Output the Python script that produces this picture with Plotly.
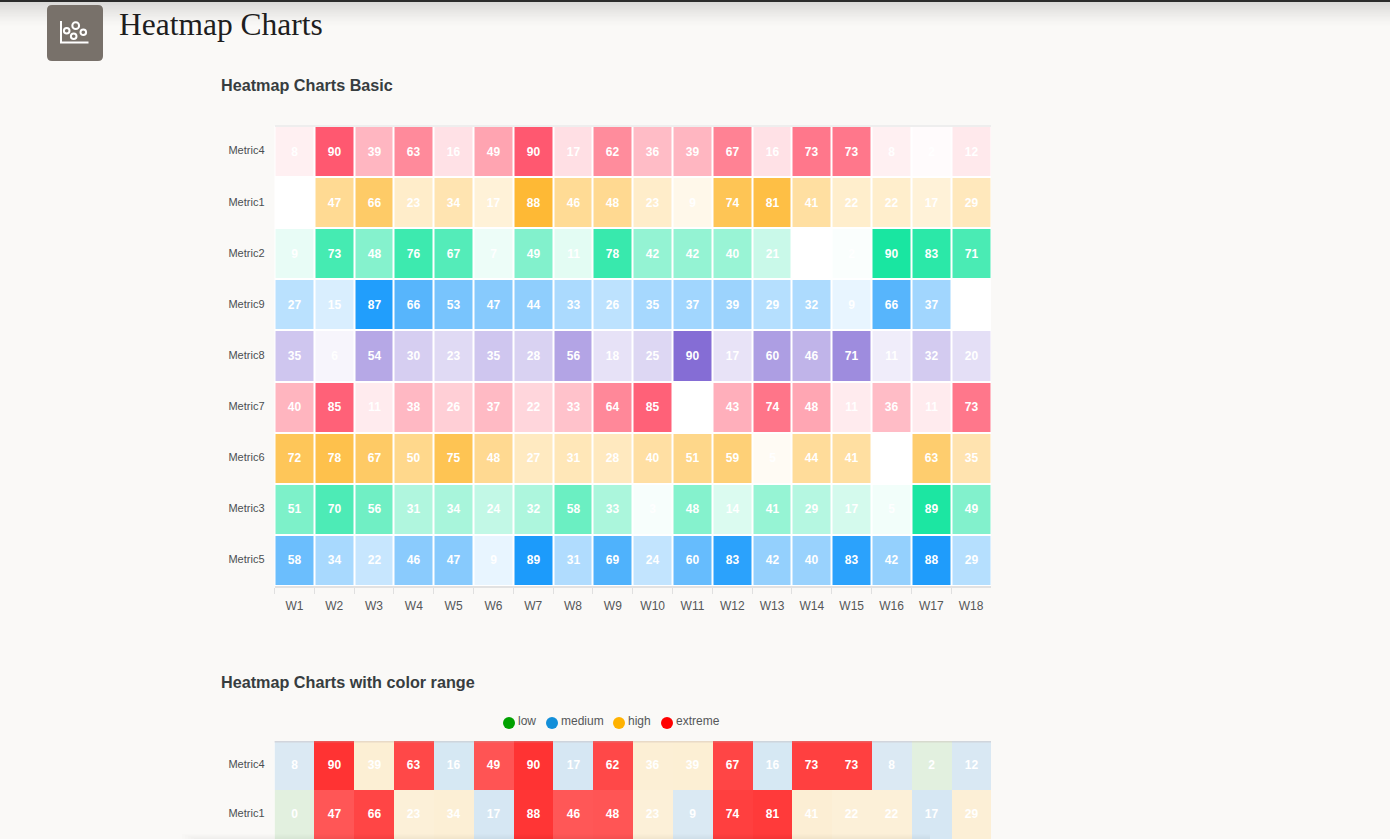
import plotly.graph_objects as go

W, H = 1390, 839
weeks = [f"W{i}" for i in range(1, 19)]
metrics = ["Metric4", "Metric1", "Metric2", "Metric9", "Metric8", "Metric7", "Metric6", "Metric3", "Metric5"]
metric4 = [8, 90, 39, 63, 16, 49, 90, 17, 62, 36, 39, 67, 16, 73, 73, 8, 2, 12]
metric1 = [0, 47, 66, 23, 34, 17, 88, 46, 48, 23, 9, 74, 81, 41, 22, 22, 17, 29]
metric2 = [9, 73, 48, 76, 67, 7, 49, 11, 78, 42, 42, 40, 21, 0, 2, 90, 83, 71]
metric9 = [27, 15, 87, 66, 53, 47, 44, 33, 26, 35, 37, 39, 29, 32, 9, 66, 37, 0]
metric8 = [35, 6, 54, 30, 23, 35, 28, 56, 18, 25, 90, 17, 60, 46, 71, 11, 32, 20]
metric7 = [40, 85, 11, 38, 26, 37, 22, 33, 64, 85, 0, 43, 74, 48, 11, 36, 11, 73]
metric6 = [72, 78, 67, 50, 75, 48, 27, 31, 28, 40, 51, 59, 5, 44, 41, 0, 63, 35]
metric3 = [51, 70, 56, 31, 34, 24, 32, 58, 33, 3, 48, 14, 41, 29, 17, 5, 89, 49]
metric5 = [58, 34, 22, 46, 47, 9, 89, 31, 69, 24, 60, 83, 42, 40, 83, 42, 88, 29]
rows = [metric4, metric1, metric2, metric9, metric8, metric7, metric6, metric3, metric5]
row_colors = ["#FF4560", "#FEB019", "#00E396", "#008FFB", "#775DD0", "#FF4560", "#FEB019", "#00E396", "#008FFB"]

BG = "#FAF9F7"
INK = "#373D3F"
fig = go.Figure()


def px_x(x):
    return x / W


def px_y(y):
    return 1 - y / H


label_font = dict(family="Liberation Sans", size=12, color="#FFFFFF", weight=700)

# Basic chart: one heatmap per metric, shaded from white to the metric's colour
for i, (name, col) in enumerate(zip(metrics, row_colors)):
    z = [r if j == i else [None] * len(r) for j, r in enumerate(rows)]
    fig.add_trace(go.Heatmap(
        x=weeks, y=metrics, z=z, zmin=0, zmax=100,
        colorscale=[[0, "#FFFFFF"], [1, col]], showscale=False,
        xgap=2, ygap=2, texttemplate="%{z}", textfont=label_font,
        xaxis="x", yaxis="y", hoverongaps=False, name=name,
    ))

# Colour-range chart (only the top of it is inside the window)
range_scale = [
    [0.00, "#E2F0DF"], [0.055, "#E2F0DF"],
    [0.055, "#DCE9F3"], [0.205, "#D4E7F3"],
    [0.205, "#FCF0D8"], [0.455, "#FCEED3"],
    [0.455, "#FF5757"], [0.60, "#FF4A4A"], [0.90, "#FF3333"], [1.00, "#FF3030"],
]
fig.add_trace(go.Heatmap(
    x=weeks, y=metrics, z=rows, zmin=0, zmax=100,
    colorscale=range_scale, showscale=False, texttemplate="%{z}", textfont=label_font,
    xaxis="x2", yaxis="y2",
))

axis_font = dict(family="Liberation Sans", size=12, color="#555759")
y_font = dict(family="Liberation Sans", size=11, color="#4A4F52")
fig.update_layout(
    width=W, height=H, autosize=False,
    margin=dict(l=0, r=0, t=0, b=0),
    paper_bgcolor=BG, plot_bgcolor="#FFFFFF", showlegend=False,
    xaxis=dict(domain=[px_x(274.5), px_x(991)], type="category", categoryorder="array", categoryarray=weeks,
               side="bottom", anchor="y", ticks="outside", tickson="boundaries", ticklen=6,
               tickcolor="#E0E0E0", tickwidth=1, showgrid=False, zeroline=False,
               showline=True, linecolor="#E2E2E2", linewidth=2, tickfont=axis_font, ticklabelstandoff=8),
    yaxis=dict(domain=[px_y(586), px_y(126)], type="category", categoryorder="array",
               categoryarray=metrics, autorange=False, range=[8.5, -0.5], anchor="x", showgrid=False, zeroline=False,
               ticks="", ticklen=0, showline=False, tickfont=y_font, ticklabelstandoff=9, ticklabelshift=1),
    xaxis2=dict(domain=[px_x(274.5), px_x(991)], type="category", categoryorder="array", categoryarray=weeks,
                anchor="y2", showticklabels=False, ticks="", showgrid=False, zeroline=False, showline=False),
    yaxis2=dict(domain=[0, px_y(741)], type="category", categoryorder="array",
                categoryarray=metrics, autorange=False, range=[(H - 741) / 48.8 - 0.5, -0.5],
                anchor="x2", showgrid=False, zeroline=False, ticks="", tickfont=y_font,
                ticklabelstandoff=9, ticklabelshift=1),
)

shapes = []
# top bar with its soft shadow
for i in range(24):
    a = 0.15 * (1 - i / 24) ** 1.25
    shapes.append(dict(type="rect", xref="paper", yref="paper", x0=0, x1=1, y0=px_y(3 + i), y1=px_y(2 + i),
                       fillcolor=f"rgba(40,40,40,{a:.3f})", line_width=0, layer="below"))
shapes.append(dict(type="rect", xref="paper", yref="paper", x0=0, x1=1, y0=px_y(2), y1=1,
                   fillcolor="#2B2B2B", line_width=0, layer="below"))
# faint shadow of a panel just below the window
for i in range(5):
    shapes.append(dict(type="rect", xref="paper", yref="paper", x0=px_x(182 + i * 3), x1=px_x(930), y0=px_y(839), y1=px_y(834 + i),
                       fillcolor="rgba(60,60,60,0.008)", line_width=0))
# icon tile
x0, x1, y0, y1, r = 47, 103, 5, 61, 5
path = (f"M {px_x(x0 + r)} {px_y(y0)} L {px_x(x1 - r)} {px_y(y0)} Q {px_x(x1)} {px_y(y0)} {px_x(x1)} {px_y(y0 + r)} "
        f"L {px_x(x1)} {px_y(y1 - r)} Q {px_x(x1)} {px_y(y1)} {px_x(x1 - r)} {px_y(y1)} "
        f"L {px_x(x0 + r)} {px_y(y1)} Q {px_x(x0)} {px_y(y1)} {px_x(x0)} {px_y(y1 - r)} "
        f"L {px_x(x0)} {px_y(y0 + r)} Q {px_x(x0)} {px_y(y0)} {px_x(x0 + r)} {px_y(y0)} Z")
shapes.append(dict(type="path", xref="paper", yref="paper", path=path, fillcolor="#78716A", line_width=0))
shapes.append(dict(type="path", xref="paper", yref="paper",
                   path=f"M {px_x(61)} {px_y(21)} L {px_x(61)} {px_y(42.5)} L {px_x(88.5)} {px_y(42.5)}",
                   line=dict(color="#FFFFFF", width=2)))
for cx, cy, rad in [(66.7, 30.7, 2.8), (75.7, 25.7, 3.4), (73.7, 36.3, 2.8), (83.3, 32.3, 2.8)]:
    shapes.append(dict(type="circle", xref="paper", yref="paper", x0=px_x(cx - rad), x1=px_x(cx + rad),
                       y0=px_y(cy + rad), y1=px_y(cy - rad), line=dict(color="#FFFFFF", width=2)))

# plot-top hairlines
shapes.append(dict(type="line", xref="paper", yref="paper", x0=px_x(275), x1=px_x(991), y0=px_y(126), y1=px_y(126),
                   line=dict(color="#EEEEEE", width=2), layer="below"))
shapes.append(dict(type="line", xref="paper", yref="paper", x0=px_x(274.5), x1=px_x(991), y0=px_y(741.7), y1=px_y(741.7),
                   line=dict(color="rgba(190,170,170,0.3)", width=1.5)))

# legend of the colour-range chart
legend_items = [("low", "#00A100", 509, 516), ("medium", "#128FD9", 552, 559),
                ("high", "#FFB200", 619, 626), ("extreme", "#FF0000", 667, 674)]
ann = []
for label, col, mx, tx in legend_items:
    shapes.append(dict(type="circle", xref="paper", yref="paper", x0=px_x(mx - 6), x1=px_x(mx + 6),
                       y0=px_y(729), y1=px_y(717), fillcolor=col, line_width=0))
    ann.append(dict(xref="paper", yref="paper", x=px_x(tx), y=px_y(721), text=label, showarrow=False,
                    xanchor="left", yanchor="middle", font=dict(family="Liberation Sans", size=12, color="#555759")))

ann.append(dict(xref="paper", yref="paper", x=px_x(117), y=px_y(24.5), text="Heatmap Charts", showarrow=False,
                xanchor="left", yanchor="middle", font=dict(family="Liberation Serif", size=31.5, color="#1E1E1E")))
ann.append(dict(xref="paper", yref="paper", x=px_x(219), y=px_y(85), text="<b>Heatmap Charts Basic</b>", showarrow=False,
                xanchor="left", yanchor="middle", font=dict(family="Liberation Sans", size=16.2, color=INK)))
ann.append(dict(xref="paper", yref="paper", x=px_x(219), y=px_y(682), text="<b>Heatmap Charts with color range</b>", showarrow=False,
                xanchor="left", yanchor="middle", font=dict(family="Liberation Sans", size=16.2, color=INK)))
fig.update_layout(shapes=shapes, annotations=ann)

fig.write_html("out.html", config={"displayModeBar": False, "responsive": False},
               post_script=f"document.body.style.margin='0';document.body.style.overflow='hidden';document.body.style.background='{BG}';")
